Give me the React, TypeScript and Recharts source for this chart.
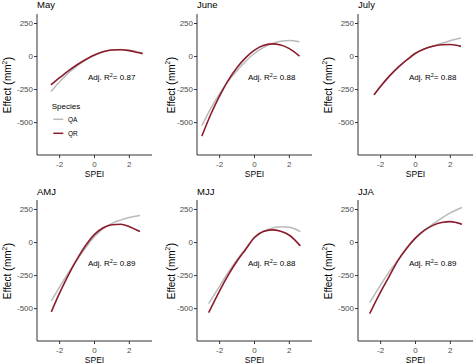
import React from 'react';
import { LineChart, Line, XAxis, YAxis } from 'recharts';

// ---- data ----
const xTicks = [-2, 0, 2];
const yTicks = [250, 0, -250, -500];
const panelNames = ['May', 'June', 'July', 'AMJ', 'MJJ', 'JJA'];
const r2Labels = ['0.87', '0.88', '0.88', '0.89', '0.88', '0.89'];
const speciesNames = ['QA', 'QR'];

const maySpei = [-2.5, -2, -1.5, -1, -0.5, 0, 0.5, 1, 1.5, 2, 2.5, 2.76];
const mayQA = [-265, -190, -125, -70, -25, 12, 38, 50, 53, 47, 35, 25];
const mayQR = [-215, -160, -108, -62, -22, 12, 36, 50, 52, 45, 30, 22];

const juneSpei = [-3.02, -2.5, -2, -1.5, -1, -0.5, 0, 0.5, 1, 1.5, 2, 2.58];
const juneQA = [-522, -390, -280, -185, -105, -35, 25, 68, 98, 115, 122, 112];
const juneQR = [-602, -435, -298, -178, -82, -8, 48, 84, 96, 88, 60, 4];

const julySpei = [-2.38, -2, -1.5, -1, -0.5, 0, 0.5, 1, 1.5, 2, 2.61];
const julyQA = [-290, -225, -148, -82, -26, 25, 58, 80, 100, 120, 140];
const julyQR = [-290, -225, -148, -82, -26, 25, 58, 78, 89, 91, 77];

const amjSpei = [-2.48, -2, -1.5, -1, -0.5, 0, 0.5, 1, 1.5, 2, 2.61];
const amjQA = [-442, -335, -230, -130, -38, 45, 105, 145, 170, 190, 205];
const amjQR = [-525, -381, -246, -126, -21, 62, 112, 135, 138, 120, 83];

const mjjSpei = [-2.63, -2, -1.5, -1, -0.5, 0, 0.5, 1, 1.5, 2, 2.63];
const mjjQA = [-462, -330, -225, -130, -45, 35, 82, 108, 119, 115, 83];
const mjjQR = [-530, -365, -245, -140, -50, 40, 84, 96, 85, 55, -25];

const jjaSpei = [-2.63, -2, -1.5, -1, -0.5, 0, 0.5, 1, 1.5, 2, 2.67];
const jjaQA = [-455, -320, -220, -132, -45, 30, 90, 140, 185, 225, 265];
const jjaQR = [-538, -374, -254, -135, -42, 35, 92, 130, 152, 158, 139];

const build = (s: number[], qa: number[], qr: number[]) =>
  s.map((v, i) => ({ spei: v, QA: qa[i], QR: qr[i] }));

const panelData = [
  build(maySpei, mayQA, mayQR),
  build(juneSpei, juneQA, juneQR),
  build(julySpei, julyQA, julyQR),
  build(amjSpei, amjQA, amjQR),
  build(mjjSpei, mjjQA, mjjQR),
  build(jjaSpei, jjaQA, jjaQR),
];

// ---- layout / style ----
const FONT = '"Liberation Sans", Arial, Helvetica, sans-serif';
const GREY = '#b9b9b9';
const RED = '#8c1c2c';
const AXIS = '#333333';
const TICK_TEXT = '#4d4d4d';
const colLeft = [37, 197, 358];
const rowTop = [14, 200];
const rowH = [141, 141];
const plotW = 115;
const YW = 37;
const XH = 25;
const yLabelX = [7.7, 171, 328];
const yDomain: [number, number] = [-745, 322];
const xDomain: [number, number] = [-3.3, 3.3];

function Panel({ idx }: { idx: number }) {
  const col = idx % 3;
  const row = Math.floor(idx / 3);
  const left = colLeft[col] - YW;
  const top = rowTop[row];
  const h = rowH[row];
  return (
    <div style={{ position: 'absolute', left, top }}>
      <LineChart
        width={YW + plotW}
        height={h + XH}
        data={panelData[idx]}
        margin={{ top: 0, right: 0, bottom: 0, left: 0 }}
      >
        <XAxis
          type="number"
          dataKey="spei"
          domain={xDomain}
          ticks={xTicks}
          allowDataOverflow
          height={XH}
          stroke={AXIS}
          tickSize={3}
          tickMargin={3}
          tick={{ fill: TICK_TEXT, fontSize: 8, fontFamily: FONT }}
        />
        <YAxis
          type="number"
          domain={yDomain}
          ticks={yTicks}
          allowDataOverflow
          width={YW}
          stroke={AXIS}
          tickSize={3}
          tickMargin={1}
          tick={{ fill: TICK_TEXT, fontSize: 8, fontFamily: FONT }}
        />
        <Line
          type="monotone"
          dataKey="QA"
          stroke={GREY}
          strokeWidth={1.5}
          dot={false}
          isAnimationActive={false}
        />
        <Line
          type="monotone"
          dataKey="QR"
          stroke={RED}
          strokeWidth={1.6}
          dot={false}
          isAnimationActive={false}
        />
      </LineChart>
    </div>
  );
}

function Overlay() {
  const items: React.ReactNode[] = [];
  panelNames.forEach((name, idx) => {
    const col = idx % 3;
    const row = Math.floor(idx / 3);
    const pl = colLeft[col];
    const dy = row * 186;
    items.push(
      <text key={'t' + idx} x={pl} y={row === 0 ? 8 : 195} fontSize={9.5} fill="#000">
        {name}
      </text>
    );
    items.push(
      <text
        key={'x' + idx}
        x={pl + plotW / 2}
        y={row === 0 ? 177 : 363}
        fontSize={8.5}
        fill="#000"
        textAnchor="middle"
      >
        SPEI
      </text>
    );
    const cy = 85 + dy;
    items.push(
      <text
        key={'y' + idx}
        x={yLabelX[col]}
        y={cy}
        fontSize={10}
        fill="#000"
        textAnchor="middle"
        dominantBaseline="central"
        transform={`rotate(-90 ${yLabelX[col]} ${cy})`}
      >
        Effect <tspan fontSize={12}>(</tspan>mm
        <tspan fontSize={6.5} dy={-4}>2</tspan>
        <tspan fontSize={12} dy={4}>)</tspan>
      </text>
    );
    items.push(
      <text key={'r' + idx} x={pl + 51} y={80 + dy} fontSize={8} fill="#000">
        Adj. R<tspan fontSize={5.5} dy={-3}>2</tspan>
        <tspan dy={3}>= {r2Labels[idx]}</tspan>
      </text>
    );
  });
  // legend in first panel
  items.push(
    <text key="lt" x={51.7} y={109} fontSize={8} fill="#000">
      Species
    </text>
  );
  [GREY, RED].forEach((c, i) => {
    const ly = 119.3 + i * 14;
    items.push(
      <line key={'ll' + i} x1={53.3} x2={63.3} y1={ly} y2={ly} stroke={c} strokeWidth={1.5} />
    );
    items.push(
      <text key={'lx' + i} x={68} y={ly + 2.3} fontSize={6.5} fill="#000">
        {speciesNames[i]}
      </text>
    );
  });
  return (
    <svg
      width={474}
      height={364}
      style={{ position: 'absolute', left: 0, top: 0, pointerEvents: 'none', fontFamily: FONT }}
    >
      {items}
    </svg>
  );
}

export default function App() {
  return (
    <div
      style={{
        position: 'absolute',
        left: 0,
        top: 0,
        width: 474,
        height: 364,
        overflow: 'hidden',
        background: '#fff',
        fontFamily: FONT,
      }}
    >
      {panelNames.map((_, i) => (
        <Panel key={i} idx={i} />
      ))}
      <Overlay />
    </div>
  );
}
